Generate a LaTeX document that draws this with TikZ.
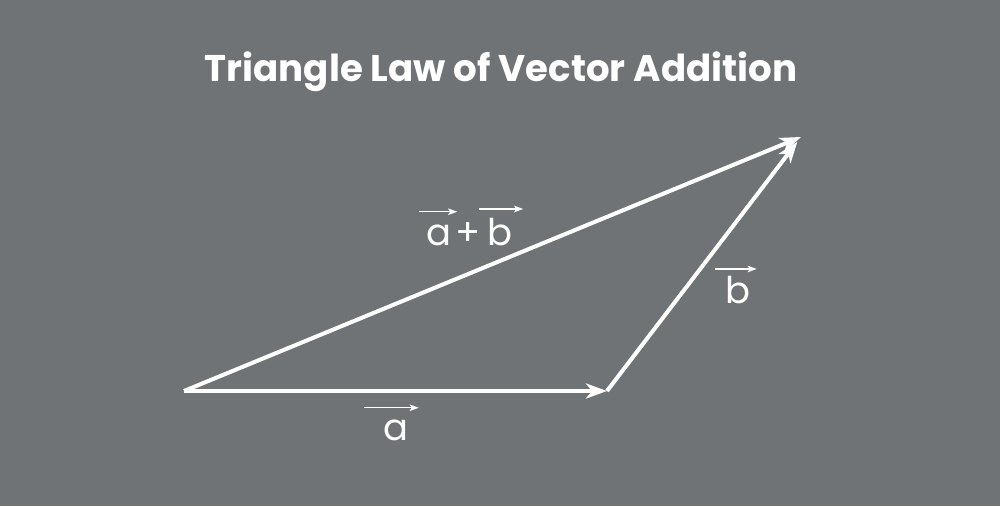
\documentclass[tikz,border=0pt]{standalone}
\usepackage{fontspec}
\setmainfont{Poppins}
\usetikzlibrary{arrows.meta,calc}
\definecolor{bgcol}{RGB}{112,115,117}
\tikzset{
  vecline/.style={draw=white, line width=0.4mm, -{Stealth[length=2.1mm,width=1.5mm,inset=0.6mm]}},
  overarrow/.style={draw=white, line width=0.15mm, -{Stealth[length=0.9mm,width=0.65mm,inset=0.2mm]}},
  lbl/.style={text=white, inner sep=0pt, anchor=base, font=\fontsize{10.5}{12}\selectfont},
  ttl/.style={text=white, inner sep=0pt, font=\bfseries}
}
\begin{document}
\begin{tikzpicture}[x=0.01cm, y=-0.01cm]
  \fill[bgcol] (0,0) rectangle (1000,506);
  \useasboundingbox (0,0) rectangle (1000,506);
  % title
  \node[ttl] (title) at (501,72) {\resizebox{5.92cm}{!}{Triangle Law of Vector Addition}};
  % vertices
  \coordinate (A) at (184,391);
  \coordinate (B) at (607,391);
  \coordinate (C) at (801,137);
  % vectors
  \draw[vecline] (A) -- (B);
  \draw[vecline, shorten >=0.6mm] (B) -- (C);
  \draw[vecline] (A) -- (C);
  % labels
  \node[lbl] (la) at (395.5,440) {a};
  \node[lbl] (lb) at (737.5,303) {b};
  \node[lbl] (sa) at (439,245) {a};
  \node[lbl] (sp) at (468,245) {+};
  \node[lbl] (sb) at (500,245) {b};
  % arrows over labels
  \draw[overarrow] ($(la.north west)+(-18,-11)$) -- ($(la.north east)+(10,-11)$);
  \draw[overarrow] ($(lb.north west)+(-9,-6)$) -- ($(lb.north east)+(6,-6)$);
  \draw[overarrow] ($(sa.north west)+(-7,-12)$) -- ($(sa.north east)+(5,-12)$);
  \draw[overarrow] ($(sb.north west)+(-8,-8)$) -- ($(sb.north east)+(10,-8)$);
\end{tikzpicture}
\end{document}
